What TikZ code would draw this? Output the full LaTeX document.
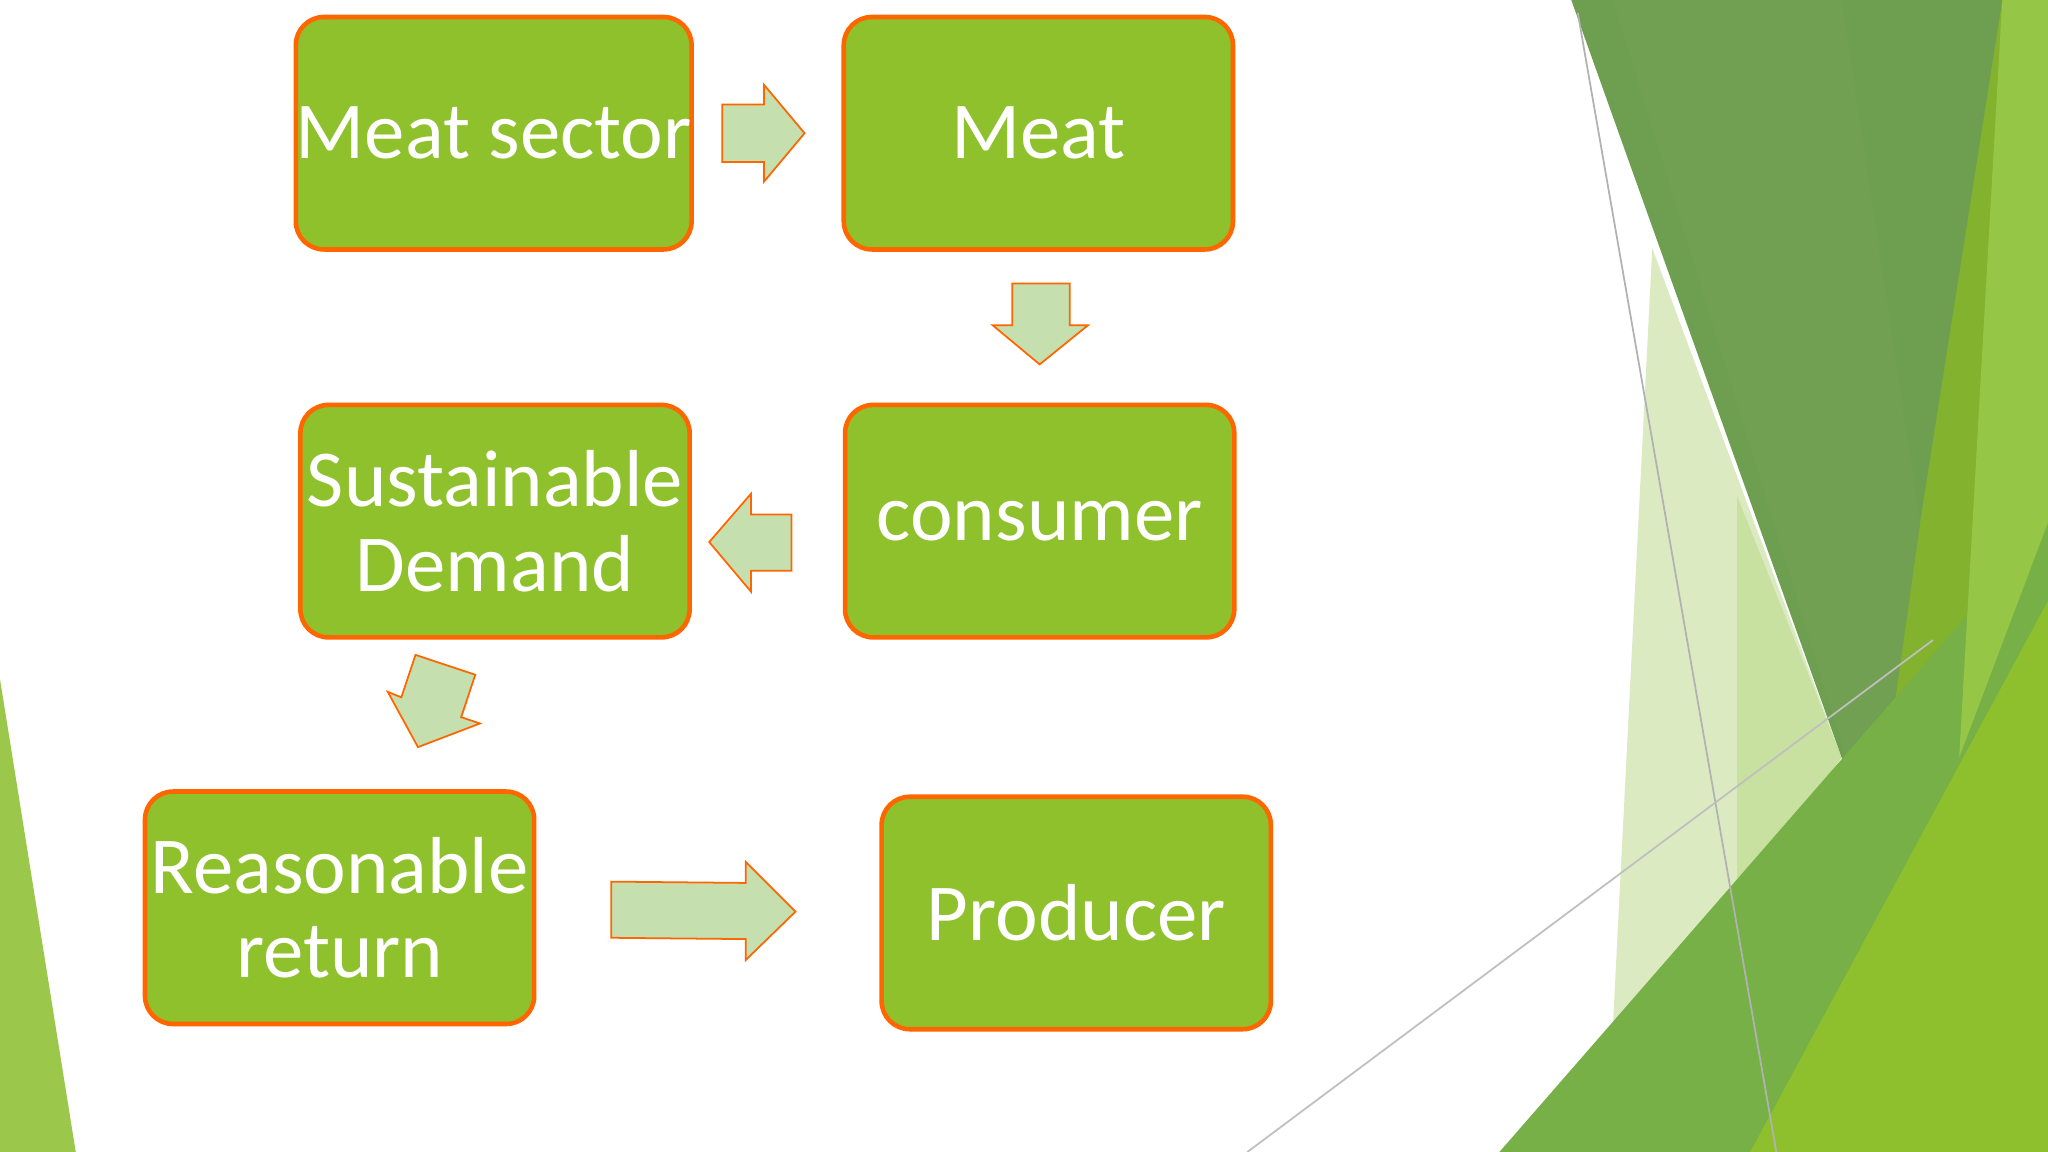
\documentclass[tikz,border=0pt]{standalone}
\usepackage{fontspec}
\setmainfont{Carlito}
\begin{document}
\begin{tikzpicture}[x=0.01306cm,y=-0.01306cm,
  box/.style={draw=orange!80!red,line width=1.3pt,fill=boxg,rounded corners=8pt,minimum width=298*0.01306cm,minimum height=178*0.01306cm,text=white,font=\fontsize{23}{24}\selectfont,align=center,inner sep=0pt},
  blk/.style={draw=orange!80!red,line width=0.5pt,fill=arrg}]
\definecolor{boxg}{HTML}{8EC12C}
\definecolor{arrg}{HTML}{C5DFAE}
\useasboundingbox (0,0) rectangle (1568,882);
\fill[white] (0,0) rectangle (1568,882);
% background decorations
\fill[fill={rgb,255:red,130;green,178;blue,46}] (1410,0)--(1568,0)--(1568,882)--(1470,882)--cycle;
\fill[fill={rgb,255:red,220;green,234;blue,194}] (1265,190)--(1410,580)--(1180,882)--(1230,882)--cycle;
\fill[fill={rgb,255:red,200;green,224;blue,160}] (1330,380)--(1410,580)--(1330,690)--cycle;
\fill[fill={rgb,255:red,110;green,158;blue,80}] (1203,0)--(1533,0)--(1470,400)--(1435,650)--cycle;
\fill[fill={rgb,255:red,114;green,160;blue,82}] (1235,0)--(1410,0)--(1470,400)--(1435,650)--cycle;
\fill[fill={rgb,255:red,118;green,176;blue,70}] (1148,882)--(1568,400)--(1568,882)--cycle;
\fill[fill={rgb,255:red,141;green,192;blue,44}] (1340,882)--(1568,460)--(1568,882)--cycle;
\fill[fill={rgb,255:red,150;green,198;blue,70}] (1533,0)--(1568,0)--(1568,400)--(1500,580)--cycle;
\fill[fill={rgb,255:red,155;green,200;blue,74}] (0,520)--(58,882)--(0,882)--cycle;
\draw[gray!60,line width=0.5pt] (1208,10)--(1360,882);
\draw[gray!50,line width=0.5pt] (955,882)--(1480,490);
% boxes
\node[box] (ms) at (378,102) {Meat sector};
\node[box] (m) at (795,102) {Meat};
\node[box] (sd) at (379,399) {Sustainable\\Demand};
\node[box] (c) at (796,399) {consumer};
\node[box] (rr) at (260,695) {Reasonable\\return};
\node[box] (p) at (824,699) {Producer};
% arrows
\draw[blk] (553,80)--(585,80)--(585,65)--(616,102)--(585,139)--(585,124)--(553,124)--cycle;
\draw[blk] (775,217)--(819,217)--(819,249)--(833,249)--(796,279)--(760,249)--(775,249)--cycle;
\draw[blk] (606,394)--(575,394)--(575,378)--(543,415)--(575,453)--(575,437)--(606,437)--cycle;
\draw[blk] (318.1,501.4)--(363.9,516.6)--(353.1,549.1)--(367.5,553.9)--(320,572)--(296.9,529.7)--(307.3,533.9)--cycle;
\draw[blk] (468,675)--(571,676)--(571,660)--(609,698)--(571,735)--(571,719)--(468,718)--cycle;
\end{tikzpicture}
\end{document}
